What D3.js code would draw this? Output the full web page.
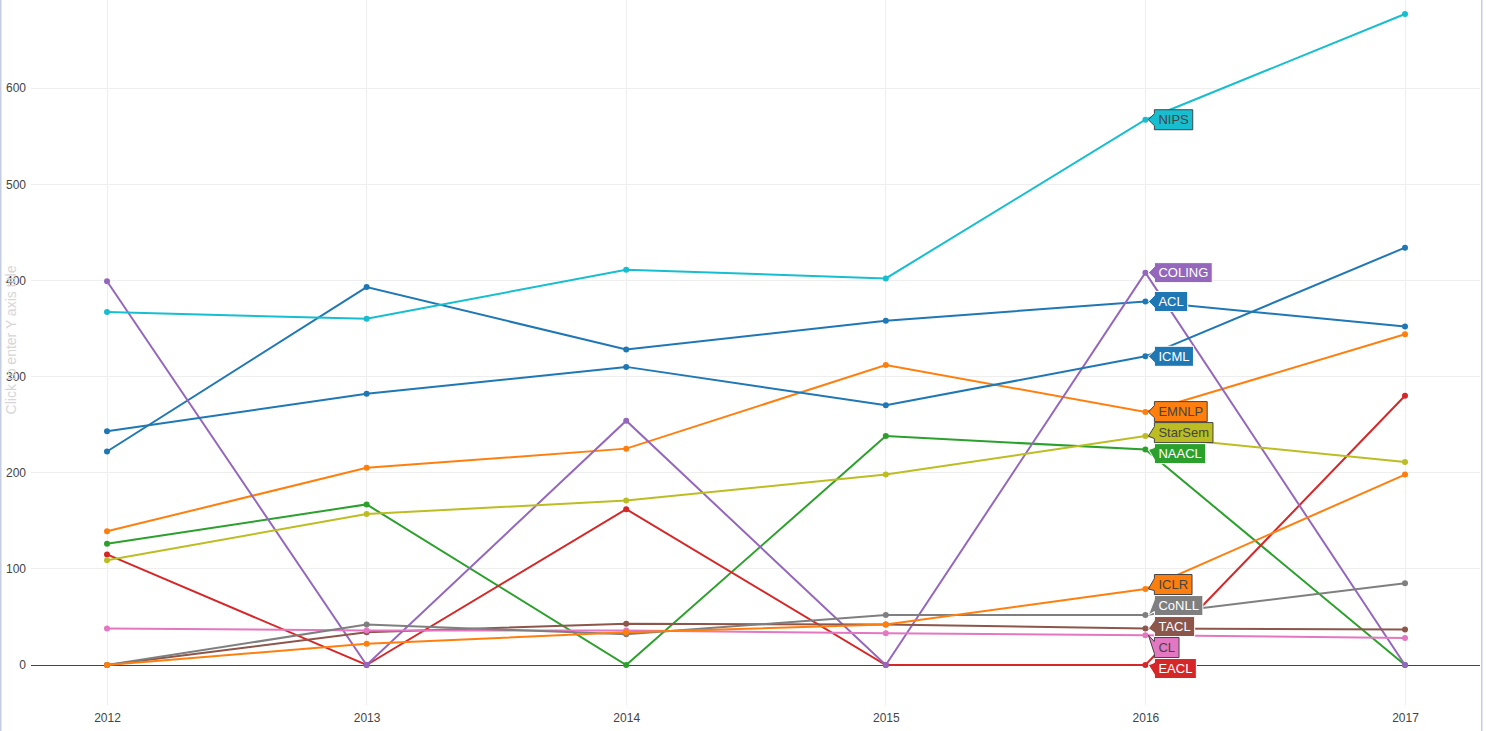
<!DOCTYPE html>
<html>
<head>
<meta charset="utf-8">
<script src="https://d3js.org/d3.v7.min.js"></script>
<style>
  body { margin: 0; background: #fff; }
  svg { display: block; font-family: "Liberation Sans", Arial, sans-serif; }
</style>
</head>
<body>
<div id="chart"></div>
<script>
const years = [2012, 2013, 2014, 2015, 2016, 2017];
const yTicks = [0, 100, 200, 300, 400, 500, 600];

// trace order follows plotly's default colour cycle
const venues = ["ACL", "EMNLP", "NAACL", "EACL", "COLING", "TACL", "CL", "CoNLL", "StarSem", "NIPS", "ICML", "ICLR"];

const acl     = [222, 393, 328, 358, 378, 352];
const emnlp   = [139, 205, 225, 312, 263, 344];
const naacl   = [126, 167, 0, 238, 224, 0];
const eacl    = [115, 0, 162, 0, 0, 280];
const coling  = [399, 0, 254, 0, 408, 0];
const tacl    = [0, 34, 43, 42, 38, 37];
const cl      = [38, 36, 36, 33, 31, 28];
const conll   = [0, 42, 32, 52, 52, 85];
const starsem = [109, 157, 171, 198, 238, 211];
const nips    = [367, 360, 411, 402, 567, 677];
const icml    = [243, 282, 310, 270, 321, 434];
const iclr    = [0, 22, 34, 42, 79, 198];

const series = [acl, emnlp, naacl, eacl, coling, tacl, cl, conll, starsem, nips, icml, iclr];
const hoverYear = 2016;

const W = 1486, H = 731;
const plot = { left: 31, right: 1480, top: 0, bottom: 705 };
const palette = d3.schemeCategory10;
const color = i => palette[i % palette.length];

const svg = d3.select("#chart").append("svg")
    .attr("width", W)
    .attr("height", H);

const x = d3.scaleLinear()
    .domain([2012, 2017])
    .range([107, 1405]);

const y = d3.scaleLinear()
    .domain([0, 600])
    .range([665, 88]);

// grid
svg.append("g")
    .attr("shape-rendering", "crispEdges")
    .selectAll("line")
    .data(years)
    .join("line")
    .attr("x1", d => x(d))
    .attr("x2", d => x(d))
    .attr("y1", plot.top)
    .attr("y2", plot.bottom)
    .attr("stroke", "#eee");

svg.append("g")
    .attr("shape-rendering", "crispEdges")
    .selectAll("line")
    .data(yTicks.filter(d => d !== 0))
    .join("line")
    .attr("x1", plot.left)
    .attr("x2", plot.right)
    .attr("y1", d => y(d))
    .attr("y2", d => y(d))
    .attr("stroke", "#eee");

// zero line
svg.append("line")
    .attr("shape-rendering", "crispEdges")
    .attr("x1", plot.left)
    .attr("x2", plot.right)
    .attr("y1", y(0) + 0.5)
    .attr("y2", y(0) + 0.5)
    .attr("stroke", "#444");

// axes (labels only)
const xAxis = svg.append("g")
    .attr("transform", `translate(0,${plot.bottom})`)
    .call(d3.axisBottom(x).tickValues(years).tickFormat(d3.format("d")).tickSize(0).tickPadding(8));

const yAxis = svg.append("g")
    .attr("transform", "translate(29,0)")
    .call(d3.axisLeft(y).tickValues(yTicks).tickSize(0).tickPadding(3));

[xAxis, yAxis].forEach(a => {
    a.select(".domain").remove();
    a.selectAll("text")
        .attr("fill", "#444")
        .attr("font-size", "12px")
        .attr("font-family", "\"Liberation Sans\", Arial, sans-serif");
});

svg.append("text")
    .attr("transform", "translate(16,340) rotate(-90)")
    .attr("text-anchor", "middle")
    .attr("font-size", "14px")
    .attr("fill", "#d6d6d6")
    .text("Click to enter Y axis title");

// lines + markers
const line = d3.line()
    .x((d, i) => x(years[i]))
    .y(d => y(d));

const traces = svg.append("g")
    .selectAll("g")
    .data(series)
    .join("g");

traces.append("path")
    .attr("d", d => line(d))
    .attr("fill", "none")
    .attr("stroke", (d, i) => color(i))
    .attr("stroke-width", 2);

traces.each(function (d, i) {
    d3.select(this).selectAll("circle")
        .data(d)
        .join("circle")
        .attr("cx", (v, j) => x(years[j]))
        .attr("cy", v => y(v))
        .attr("r", 3)
        .attr("fill", color(i));
});

// hover labels at 2016, stacked to avoid overlap
const hi = years.indexOf(hoverYear);
const labels = series.map((s, i) => ({ name: venues[i], color: color(i), py: y(s[hi]) }))
    .sort((a, b) => a.py - b.py);

const step = 21;
let groups = labels.map(l => ({ items: [l], c: l.py }));
let merged = true;
while (merged) {
    merged = false;
    for (let i = 0; i < groups.length - 1; i++) {
        const a = groups[i], b = groups[i + 1];
        const aEnd = a.c + (a.items.length - 1) / 2 * step;
        const bStart = b.c - (b.items.length - 1) / 2 * step;
        if (bStart - aEnd < step) {
            const items = a.items.concat(b.items);
            groups.splice(i, 2, { items: items, c: d3.mean(items, d => d.py) });
            merged = true;
            break;
        }
    }
}
groups.forEach(g => g.items.forEach((d, i) => {
    d.ly = g.c + (i - (g.items.length - 1) / 2) * step;
}));

const contrast = c => {
    const rgb = d3.rgb(c);
    const b = (rgb.r * 299 + rgb.g * 587 + rgb.b * 114) / 1000;
    return b >= 128 ? "#444" : "#fff";
};

const hx = x(hoverYear) + 3;
const hh = 20;
const hover = svg.append("g")
    .selectAll("g")
    .data(labels)
    .join("g")
    .attr("transform", d => `translate(${hx},${d.py})`);

hover.each(function (d) {
    const g = d3.select(this);
    const off = d.ly - d.py;
    const path = g.append("path");
    const t = g.append("text")
        .attr("x", 10)
        .attr("y", off)
        .attr("dy", "0.36em")
        .attr("font-size", "13px")
        .attr("fill", contrast(d.color))
        .text(d.name);
    const w = t.node().getComputedTextLength() + 8;
    path.attr("d", `M0,0L6,${6 + off}v${hh / 2 - 6}h${w}v${-hh}H6V${off - 6}Z`)
        .attr("fill", d.color)
        .attr("stroke", contrast(d.color))
        .attr("stroke-width", 1);
});

// frame edges
svg.append("rect").attr("x", 0).attr("y", 0).attr("width", 1.5).attr("height", H).attr("fill", "#c5cde0");
svg.append("rect").attr("x", 1481).attr("y", 0).attr("width", 1.5).attr("height", H).attr("fill", "#c5cde0");
</script>
</body>
</html>
